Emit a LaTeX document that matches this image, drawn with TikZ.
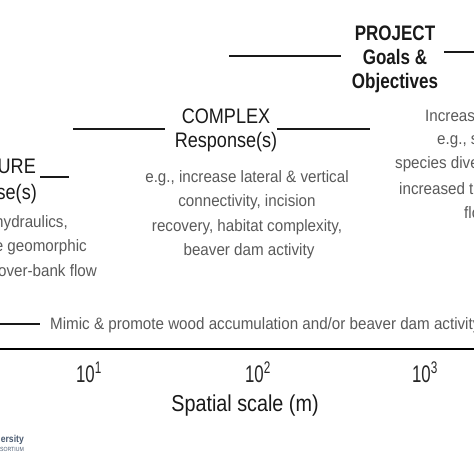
\documentclass[tikz,border=0pt]{standalone}
\usepackage{fontspec}
\setmainfont[FakeStretch=0.86]{Liberation Sans}
\newfontfamily\boldhead[FakeStretch=0.81]{Liberation Sans}
\newfontfamily\bodyfont[FakeStretch=0.92]{Liberation Sans}
\newfontfamily\tickfont[FakeStretch=0.7]{Liberation Sans}
\definecolor{bodygray}{HTML}{595959}
\definecolor{logoblue}{HTML}{4A5A70}
\begin{document}
\begin{tikzpicture}[x=1pt, y=-1pt, inner sep=0pt,
  head/.style={font=\fontsize{21}{24}\selectfont, text=black!90},
  projhead/.style={font=\boldhead\fontsize{21}{24}\selectfont\bfseries, text=black!90},
  bodytxt/.style={font=\bodyfont\fontsize{16.5}{19}\selectfont, text=bodygray},
  ticklab/.style={font=\tickfont\fontsize{24}{26}\selectfont, text=black!85},
  bar/.style={line width=1.5pt, color=black!90}]
\useasboundingbox (0,0) rectangle (474,474);
\clip (0,0) rectangle (474,474);
% ---- project level
\node[projhead] (projA) at (395,33) {PROJECT};
\node[projhead] (projB) at (395,57) {Goals \&};
\node[projhead] (projC) at (395,83) {Objectives};
\draw[bar] (229,56) -- (341,56);
\draw[bar] (444,52) -- (474,52);
\node[bodytxt, anchor=west] (incA) at (425,115.5) {Increas};
\node[bodytxt, anchor=west] (incB) at (437,141.5) {e.g., s};
\node[bodytxt, anchor=west] (incC) at (395,164.5) {species dive};
\node[bodytxt, anchor=west] (incD) at (399,188.5) {increased t};
\node[bodytxt, anchor=west] (incE) at (464,212.5) {flo};
% ---- complex level
\node[head] (cplxA) at (226,116) {COMPLEX};
\node[head] (cplxB) at (226,142) {Response(s)};
\draw[bar] (73,129) -- (165,129);
\draw[bar] (277,129) -- (370,129);
\node[bodytxt] (egA) at (247,178.5) {e.g., increase lateral \& vertical};
\node[bodytxt] (egB) at (247,202.5) {connectivity, incision};
\node[bodytxt] (egC) at (247,227.5) {recovery, habitat complexity,};
\node[bodytxt] (egD) at (249,251.5) {beaver dam activity};
% ---- structure level, cut by the left edge
\node[head, anchor=east] (strA) at (36,166) {TURE};
\node[head, anchor=east] (strB) at (37,194) {se(s)};
\draw[bar] (40,177) -- (69,177);
\node[bodytxt, anchor=east] (hydA) at (68,223.5) {hydraulics,};
\node[bodytxt, anchor=east] (hydB) at (87,247.5) {e geomorphic};
\node[bodytxt, anchor=east] (hydC) at (97,271) {over-bank flow};
% ---- wood line
\draw[bar] (0,324) -- (40,324);
\node[bodytxt, anchor=west] (mimic) at (50,325.5) {Mimic \& promote wood accumulation and/or beaver dam activity,};
% ---- axis
\draw[line width=2pt, color=black] (0,349) -- (474,349);
\node[ticklab] (tickA) at (89,372) {10\textsuperscript{1}};
\node[ticklab] (tickB) at (258,372) {10\textsuperscript{2}};
\node[ticklab] (tickC) at (425,372) {10\textsuperscript{3}};
\node[head, font=\fontsize{23}{26}\selectfont] (xlab) at (245,406) {Spatial scale (m)};
% ---- logo text
\node[anchor=east, font=\fontsize{10}{11}\selectfont\bfseries, text=logoblue] (logoA) at (24,440) {ersity};
\node[anchor=east, font=\fontsize{6}{7}\selectfont, text=logoblue] (logoB) at (24,449) {SORTIUM};
\end{tikzpicture}
\end{document}
